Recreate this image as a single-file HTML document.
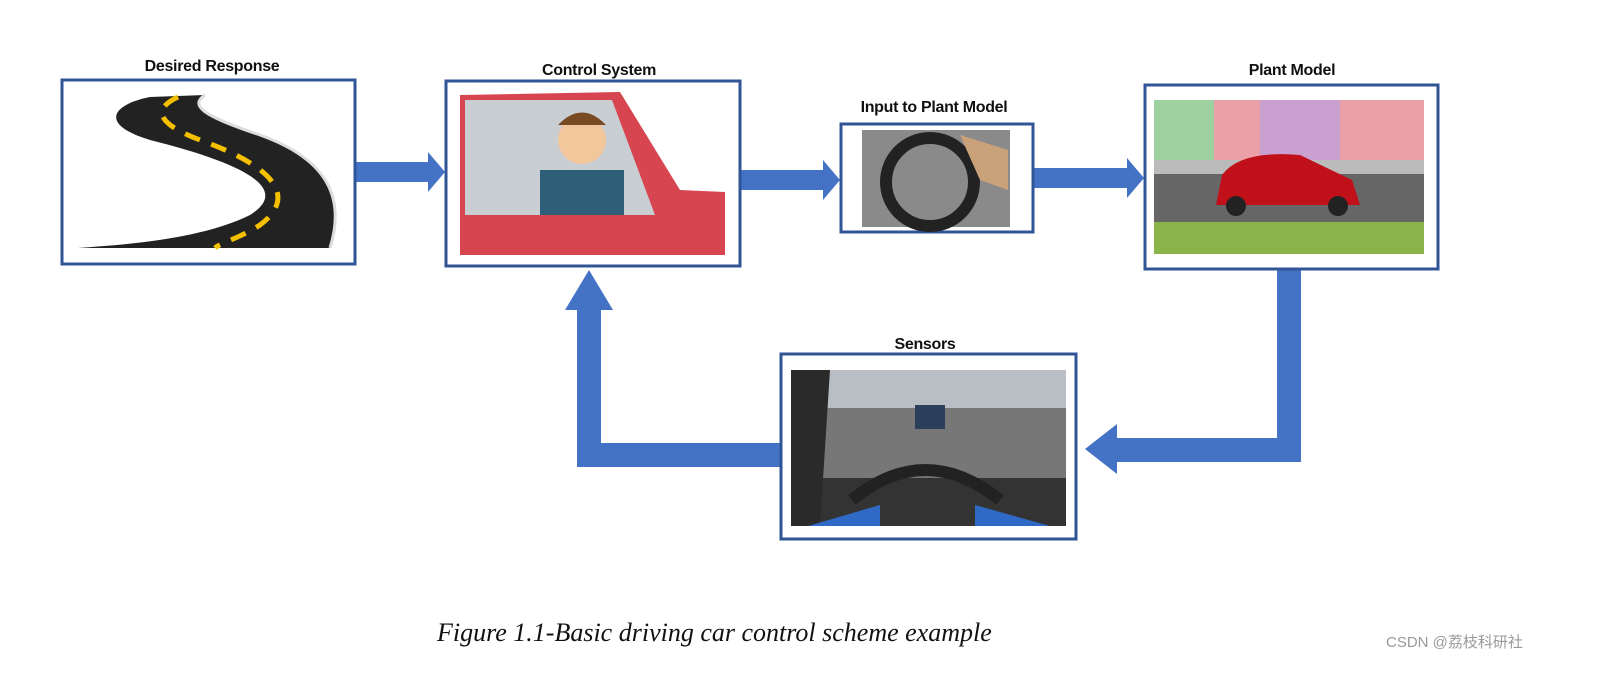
<!DOCTYPE html>
<html><head><meta charset="utf-8"><style>
body{margin:0;background:#fff;width:1612px;height:682px;overflow:hidden;position:relative;font-family:"Liberation Sans",sans-serif}
.lbl{position:absolute;font-weight:bold;font-size:16px;color:#111;text-align:center;white-space:nowrap;letter-spacing:-0.3px}
.cap{position:absolute;left:437px;top:618px;font-family:"Liberation Serif",serif;font-style:italic;font-size:26px;color:#111}
.wm{position:absolute;left:1386px;top:631px;font-size:15px;color:#999;font-family:"Liberation Sans","Noto Sans CJK SC",sans-serif}
</style></head><body>
<svg width="1612" height="682" style="position:absolute;left:0;top:0">
<g fill="#4472C4">
<polygon points="356,162 428,162 428,152 445,172 428,192 428,182 356,182"/>
<polygon points="741,170 823,170 823,160 840,180 823,200 823,190 741,190"/>
<polygon points="1034,168 1127,168 1127,158 1144,178 1127,198 1127,188 1034,188"/>
<polygon points="1277,270 1301,270 1301,462 1117,462 1117,474 1085,449 1117,424 1117,438 1277,438"/>
<polygon points="780,443 780,467 577,467 577,310 565,310 589,270 613,310 601,310 601,443"/>
</g>
<!-- box1 road -->
<rect x="62" y="80" width="293" height="184" fill="#fff" stroke="#2F5597" stroke-width="3"/>
<path d="M150,97 C110,105 100,125 150,140 C250,165 290,190 250,215 C200,240 120,245 78,248 L330,248 C345,200 330,160 260,135 C200,115 190,105 205,95 Z" fill="#222"/>
<path d="M178,97 C150,110 160,125 200,140 C270,165 300,195 260,225 C240,238 220,243 215,248" stroke="#f5c000" stroke-width="5" fill="none" stroke-dasharray="16,12"/>
<path d="M205,95 C190,105 200,115 260,135 C330,160 345,200 330,248" stroke="#ddd" stroke-width="3" fill="none"/>
<!-- box2 control -->
<rect x="446" y="81" width="294" height="185" fill="#fff" stroke="#2F5597" stroke-width="3"/>
<path d="M460,95 L620,92 L680,190 L725,192 L725,255 L460,255 Z" fill="#d64550"/>
<path d="M465,100 L612,100 L655,215 L465,215 Z" fill="#c9ced3"/>
<circle cx="582" cy="140" r="24" fill="#f2c79c"/>
<path d="M558,125 Q582,100 606,125 Z" fill="#7a4a22"/>
<rect x="540" y="170" width="84" height="45" fill="#2f5f78"/>
<!-- box3 input -->
<rect x="841" y="124" width="192" height="108" fill="#fff" stroke="#2F5597" stroke-width="3"/>
<rect x="862" y="130" width="148" height="97" fill="#8a8a8a"/>
<circle cx="930" cy="182" r="44" fill="none" stroke="#222" stroke-width="12"/>
<path d="M960,135 L1008,150 L1008,190 L980,180 Z" fill="#c9a27a"/>
<!-- box4 plant -->
<rect x="1145" y="85" width="293" height="184" fill="#fff" stroke="#2F5597" stroke-width="3"/>
<rect x="1154" y="100" width="270" height="60" fill="#e9a0a6"/>
<rect x="1154" y="100" width="60" height="60" fill="#9ed0a0"/>
<rect x="1260" y="100" width="80" height="60" fill="#c9a0d0"/>
<rect x="1154" y="160" width="270" height="14" fill="#bbb"/>
<rect x="1154" y="174" width="270" height="48" fill="#666"/>
<rect x="1154" y="222" width="270" height="32" fill="#8ab34a"/>
<path d="M1216,205 L1222,175 Q1240,150 1300,155 L1352,180 L1360,205 Z" fill="#c0101a"/>
<circle cx="1236" cy="206" r="10" fill="#222"/><circle cx="1338" cy="206" r="10" fill="#222"/>
<!-- box5 sensors -->
<rect x="781" y="354" width="295" height="185" fill="#fff" stroke="#2F5597" stroke-width="3"/>
<rect x="791" y="370" width="275" height="38" fill="#b9bdc4"/>
<rect x="791" y="408" width="275" height="70" fill="#777"/>
<rect x="791" y="478" width="275" height="48" fill="#333"/>
<path d="M791,370 L830,370 L820,526 L791,526 Z" fill="#2a2a2a"/>
<rect x="915" y="405" width="30" height="24" fill="#2b3e5a"/>
<path d="M852,500 Q925,440 1000,500" fill="none" stroke="#222" stroke-width="12"/>
<path d="M808,526 L880,505 L880,526 Z" fill="#2f6bc6"/><path d="M1050,526 L975,505 L975,526 Z" fill="#2f6bc6"/>
</svg>
<div class="lbl" style="left:112px;top:58px;width:200px">Desired Response</div>
<div class="lbl" style="left:499px;top:62px;width:200px">Control System</div>
<div class="lbl" style="left:834px;top:99px;width:200px">Input to Plant Model</div>
<div class="lbl" style="left:1192px;top:62px;width:200px">Plant Model</div>
<div class="lbl" style="left:825px;top:336px;width:200px">Sensors</div>
<div class="cap">Figure 1.1-Basic driving car control scheme example</div>
<div class="wm">CSDN @荔枝科研社</div>
</body></html>
